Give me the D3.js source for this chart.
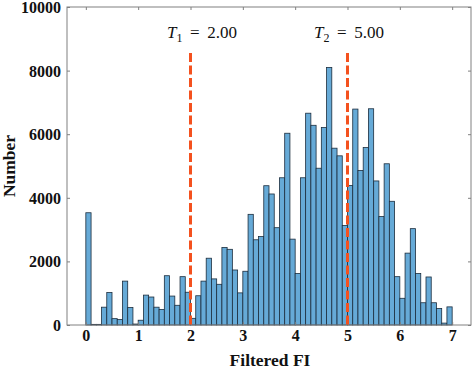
<!DOCTYPE html>
<html>
<head>
<meta charset="utf-8">
<script src="https://cdn.jsdelivr.net/npm/d3@7"></script>
<style>
    body { margin: 0; background: #fff; }
    svg { display: block; }
    .tick-label { font-family: "Liberation Serif", "Times New Roman", serif; font-weight: bold; font-size: 16px; fill: #111; }
    .axis-title { font-family: "Liberation Serif", "Times New Roman", serif; font-weight: bold; font-size: 17.5px; fill: #111; }
    .thr-label { font-family: "Liberation Serif", "Times New Roman", serif; font-size: 17px; fill: #111; }
</style>
</head>
<body>
<svg width="474" height="369"></svg>
<script>
// Histogram of filtered FI, bins of width 0.1 from 0 to 7
var binWidth = 0.1;
var counts = [
    3530, 20, 20, 560, 1020, 200, 170, 1380, 550, 30,
    150, 940, 880, 560, 490, 1550, 910, 620, 1520, 1030,
    210, 920, 1380, 2100, 1450, 1280, 2440, 2380, 1730, 1010,
    1690, 3480, 2680, 2780, 4380, 4120, 3060, 4630, 6030, 2700,
    1620, 4630, 6660, 6280, 4930, 6210, 8100, 5560, 5320, 3130,
    4390, 6790, 4860, 5580, 6800, 4530, 3410, 5070, 3890, 1520,
    840, 2260, 3030, 1620, 700, 1510, 700, 520, 60, 570
];
var binStarts = d3.range(counts.length).map(i => +(i * binWidth).toFixed(1));

// Threshold lines
var thresholds = [2.00, 5.00];
var thresholdNames = ['1', '2'];
var thresholdTop = 8550;
var labelCenters = [2.22, 5.03];

var xTicks = [0, 1, 2, 3, 4, 5, 6, 7];
var yTicks = [0, 2000, 4000, 6000, 8000, 10000];

var svg = d3.select('svg');
var plot = { l: 67, r: 471, t: 7, b: 325 };

var xScale = d3.scaleLinear().domain([-0.36, 7.36]).range([plot.l, plot.r]);
var yScale = d3.scaleLinear().domain([0, 10000]).range([plot.b, plot.t]);

// Bars
svg.append('g').selectAll('rect')
    .data(counts)
    .enter()
    .append('rect')
    .attr('x', (d, i) => xScale(binStarts[i]))
    .attr('width', (d, i) => xScale(binStarts[i] + binWidth) - xScale(binStarts[i]))
    .attr('y', d => yScale(d))
    .attr('height', d => yScale(0) - yScale(d))
    .attr('fill', '#66aad7')
    .attr('stroke', '#1c2d3d')
    .attr('stroke-width', 0.8);

// Axis box
svg.append('rect')
    .attr('x', plot.l).attr('y', plot.t)
    .attr('width', plot.r - plot.l).attr('height', plot.b - plot.t)
    .attr('fill', 'none').attr('stroke', '#808080').attr('stroke-width', 1);

var axisColor = '#808080';

var xBottom = d3.axisBottom(xScale).tickValues(xTicks).tickSizeInner(-3).tickSizeOuter(0).tickPadding(5)
    .tickFormat(d3.format('d'));
var gx = svg.append('g').attr('transform', `translate(0, ${plot.b})`).call(xBottom);
var xTop = d3.axisTop(xScale).tickValues(xTicks).tickSizeInner(-3).tickSizeOuter(0).tickFormat('');
var gxt = svg.append('g').attr('transform', `translate(0, ${plot.t})`).call(xTop);
var yLeft = d3.axisLeft(yScale).tickValues(yTicks).tickSizeInner(-3).tickSizeOuter(0).tickPadding(6)
    .tickFormat(d3.format('d'));
var gy = svg.append('g').attr('transform', `translate(${plot.l}, 0)`).call(yLeft);
var yRight = d3.axisRight(yScale).tickValues(yTicks).tickSizeInner(-3).tickSizeOuter(0).tickFormat('');
var gyr = svg.append('g').attr('transform', `translate(${plot.r}, 0)`).call(yRight);

[gx, gxt, gy, gyr].forEach(function (g) {
    g.select('.domain').remove();
    g.selectAll('line').attr('stroke', axisColor);
    g.selectAll('text').attr('class', 'tick-label').attr('fill', null);
});
gy.selectAll('text').attr('dy', '0.34em');

// Threshold lines
svg.append('g').selectAll('line')
    .data(thresholds)
    .enter()
    .append('line')
    .attr('x1', d => xScale(d)).attr('x2', d => xScale(d))
    .attr('y1', yScale(thresholdTop)).attr('y2', yScale(0))
    .attr('stroke', '#f4511e')
    .attr('stroke-width', 3)
    .attr('stroke-dasharray', '9,3.5');

var labels = svg.append('g').selectAll('text')
    .data(thresholds)
    .enter()
    .append('text')
    .attr('class', 'thr-label')
    .attr('text-anchor', 'middle')
    .attr('x', (d, i) => xScale(labelCenters[i]))
    .attr('y', 38);
labels.append('tspan').attr('font-style', 'italic').text('T');
labels.append('tspan').attr('font-size', '12px').attr('dy', 4).text((d, i) => thresholdNames[i]);
labels.append('tspan').attr('dy', -4).text(d => '\u2009 = \u2009' + d.toFixed(2));

// Axis titles
svg.append('text')
    .attr('class', 'axis-title')
    .attr('text-anchor', 'middle')
    .attr('x', (plot.l + plot.r) / 2 + 1)
    .attr('y', 366)
    .text('Filtered FI');

svg.append('text')
    .attr('class', 'axis-title')
    .attr('text-anchor', 'middle')
    .attr('transform', `translate(15, ${(plot.t + plot.b) / 2}) rotate(-90)`)
    .text('Number');
</script>
</body>
</html>
